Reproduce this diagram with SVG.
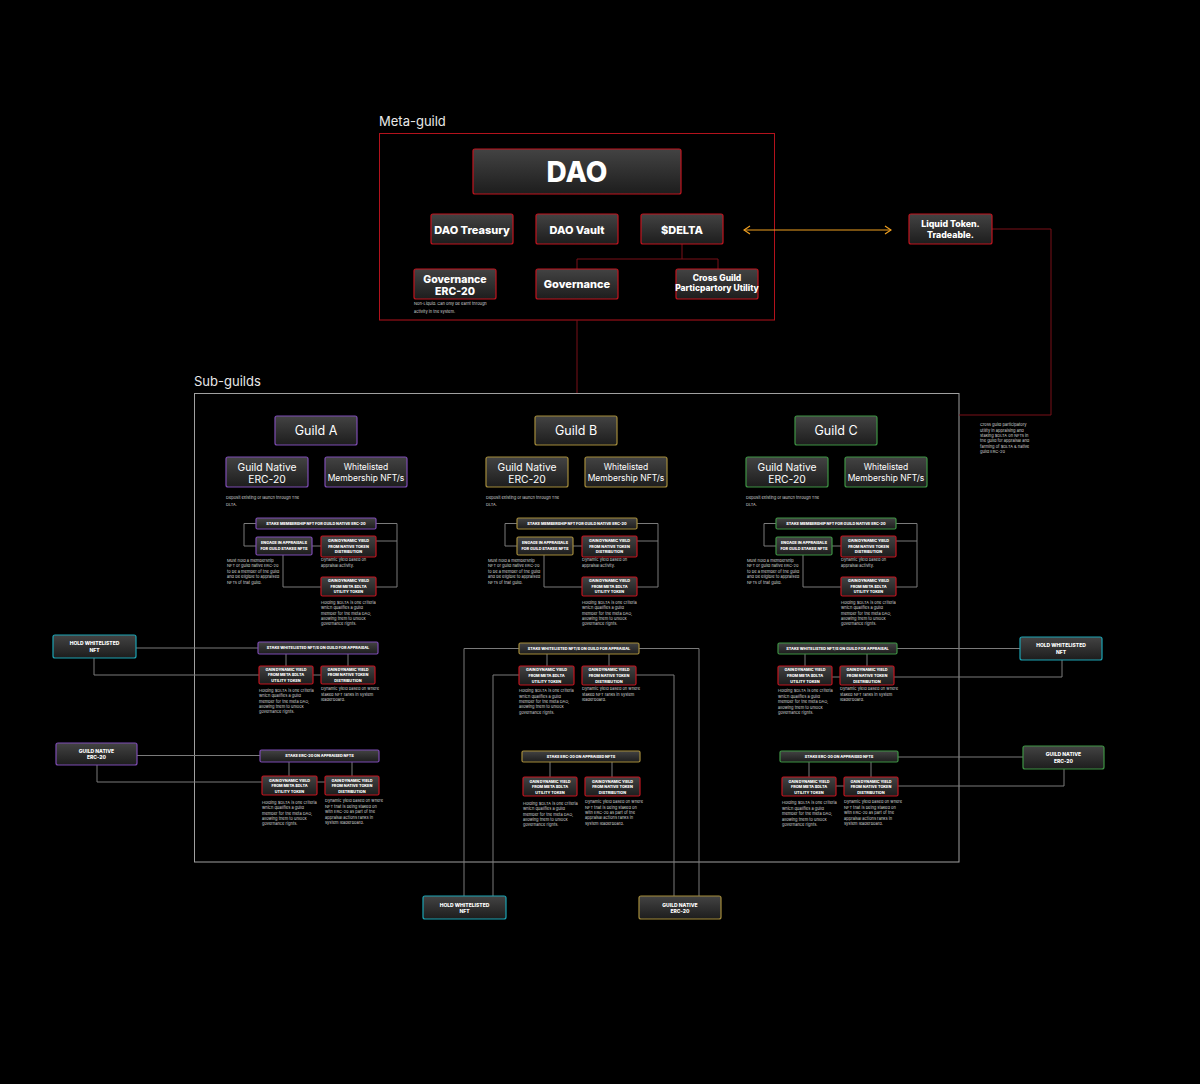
<svg xmlns="http://www.w3.org/2000/svg" width="1200" height="1084" viewBox="0 0 1200 1084">
<defs>
<linearGradient id="gr" x1="0" y1="0" x2="0" y2="1"><stop offset="0" stop-color="#434343"/><stop offset="1" stop-color="#1d1d1d"/></linearGradient>
<marker id="ar" viewBox="0 0 8 10" refX="7" refY="5" markerWidth="8" markerHeight="10" markerUnits="userSpaceOnUse" orient="auto-start-reverse"><path d="M1,1 L7,5 L1,9" fill="none" stroke="#f0a020" stroke-width="1.2"/></marker>
</defs>
<style>
.b{fill:url(#gr);stroke-width:1.2}
.r{stroke:#c0141f}.p{stroke:#7d4cb3}.y{stroke:#a38b3b}.g{stroke:#3e9444}.c{stroke:#1ca3b3}
text{font-family:Inter,"Noto Sans","Liberation Sans",sans-serif}
.h{font-weight:800;fill:#fff;text-anchor:middle}
.n{font-weight:400;fill:#fff;text-anchor:middle}
.s{font-weight:800;fill:#fff;text-anchor:middle;font-size:3.8px}
.m{font-weight:800;fill:#fff;text-anchor:middle;font-size:5px}
.d{font-size:4px;fill:#d4d4d4}
.lbl{font-size:13px;fill:#e8e8e8}
.ln{fill:none;stroke:#7a7a7a;stroke-width:1}
.mr{fill:none;stroke:#7a1018;stroke-width:1}
</style>
<rect width="1200" height="1084" fill="#000"/>

<text class="lbl" x="379" y="126" font-size="13.5">Meta-guild</text>
<text class="lbl" x="194" y="386" font-size="12.5">Sub-guilds</text>
<rect x="379.5" y="133.5" width="395" height="186.5" fill="none" stroke="#b3121c" stroke-width="1"/>
<rect x="194.5" y="393.5" width="764.5" height="468.5" fill="none" stroke="#a0a0a0" stroke-width="1"/>

<g id="connectors">
<path class="mr" d="M682,244 V259 M577,259 H718 M577,259 V269 M718,259 V269"/>
<path class="mr" d="M577,320 V393"/>
<path class="mr" d="M992,229 H1051 V415 H959"/>
<path d="M744,230 H891" fill="none" stroke="#f0a020" stroke-width="1.2" marker-start="url(#ar)" marker-end="url(#ar)"/>
<!-- Guild A -->
<path class="ln" d="M256,523.5 H244 V546 H256 M376,523.5 H397 V587 H376 M376,541 H397 M312,546 H321 M283,555 V587 H321"/>
<path class="ln" d="M136,648 H258 M286,654 V666 M348,654 V666 M94,658 V675 H259 M313,675 H321"/>
<path class="ln" d="M137,755.5 H260 M289,762 V776 M352,762 V776 M97,765 V782 H262 M317,782 H325"/>
<!-- Guild B -->
<path class="ln" d="M517,523.5 H505 V546 H517 M637,523.5 H658 V587 H637 M637,541 H658 M573,546 H582 M544,555 V587 H582"/>
<path class="ln" d="M547,654 V666 M609,654 V666 M519,648.5 H464 V896 M519,675 H493 V896 M639,648.5 H699 V896 M636,675 H674 V896"/>
<path class="ln" d="M550,762 V777 M612,762 V777"/>
<!-- Guild C -->
<path class="ln" d="M776,523.5 H764 V546 H776 M896,523.5 H917 V587 H896 M896,541 H917 M832,546 H841 M803,555 V587 H841"/>
<path class="ln" d="M897,648.5 H1020 M805,654 V666 M867,654 V666 M1062,660 V677 H894 M832,677 H840"/>
<path class="ln" d="M898,757 H1023 M809,762 V777 M871,762 V777 M1064,769 V786 H898 M836,786 H844"/>
</g>

<!-- Meta-guild nodes -->
<g id="dao"><rect class="b r" x="473" y="149" width="208" height="45" rx="2"/><text class="h" x="577" y="182" font-size="28">DAO</text></g>
<g id="dao-treasury"><rect class="b r" x="431" y="214" width="82" height="30" rx="2"/><text class="h" x="472" y="233.5" font-size="11">DAO Treasury</text></g>
<g id="dao-vault"><rect class="b r" x="536" y="214" width="82" height="30" rx="2"/><text class="h" x="577" y="233.5" font-size="11">DAO Vault</text></g>
<g id="delta"><rect class="b r" x="641" y="214" width="82" height="30" rx="2"/><text class="h" x="682" y="233.5" font-size="11">$DELTA</text></g>
<g id="gov-erc20"><rect class="b r" x="414" y="269" width="82" height="30" rx="2"/><text class="h" font-size="10.5"><tspan x="455" y="282.6">Governance</tspan><tspan x="455" y="295">ERC-20</tspan></text>
<text class="d" font-size="4.4"><tspan x="414" y="305.2">Non-Liquid. Can only be earnt through</tspan><tspan x="414" y="312.5">activity in the system.</tspan></text></g>
<g id="governance"><rect class="b r" x="536" y="269" width="82" height="30" rx="2"/><text class="h" x="577" y="288" font-size="11">Governance</text></g>
<g id="cross-guild"><rect class="b r" x="676" y="269" width="82" height="30" rx="2"/><text class="h" font-size="8.5"><tspan x="717" y="280.6">Cross Guild</tspan><tspan x="717" y="291.3">Particpartory Utility</tspan></text></g>
<g id="liquid"><rect class="b r" x="909" y="214" width="83" height="30" rx="2"/><text class="h" font-size="8.8"><tspan x="950.5" y="226.7">Liquid Token.</tspan><tspan x="950.5" y="237.6">Tradeable.</tspan></text></g>
<text class="d"><tspan x="980" y="426.4">Cross guild participatory</tspan><tspan x="980" y="431.7">utility in appraising and</tspan><tspan x="980" y="437.1">staking $DLTA on NFTs in</tspan><tspan x="980" y="442.4">the guild for appraisal and</tspan><tspan x="980" y="447.7">farming of $DLTA &amp; native</tspan><tspan x="980" y="453.1">guild ERC-20</tspan></text>

<!-- Guild A -->
<g id="guild-a"><rect class="b p" x="275" y="416" width="82" height="29" rx="2"/><text class="n" x="316" y="435" font-size="12.5">Guild A</text></g>
<g id="a-erc20"><rect class="b p" x="226" y="457" width="82" height="30" rx="2"/><text class="n" font-size="10.3"><tspan x="267" y="470.6">Guild Native</tspan><tspan x="267" y="483">ERC-20</tspan></text>
<text class="d" font-size="4.5"><tspan x="226" y="499">Deposit existing or launch through The</tspan><tspan x="226" y="505.7">DLTA.</tspan></text></g>
<g id="a-wl"><rect class="b p" x="325" y="457" width="82" height="30" rx="2"/><text class="n" font-size="8.5"><tspan x="366" y="470">Whitelisted</tspan><tspan x="366" y="481">Membership NFT/s</tspan></text></g>
<g id="a-stake-mem"><rect class="b p" x="256" y="518" width="120" height="11" rx="1.5"/><text class="s" x="316" y="524.9">STAKE MEMBERSHIP NFT FOR GUILD NATIVE ERC-20</text></g>
<g id="a-engage"><rect class="b p" x="256" y="537" width="56" height="18" rx="1.5"/><text class="s"><tspan x="284" y="544.4">ENGAGE IN APPRAISALS</tspan><tspan x="284" y="550.4">FOR GUILD STAKES NFTS</tspan></text>
<text class="d"><tspan x="227" y="562">Must hold a membership</tspan><tspan x="227" y="567.4">NFT or guild native ERC-20</tspan><tspan x="227" y="572.8">to be a member of the guild</tspan><tspan x="227" y="578.2">and be eligible to appraised</tspan><tspan x="227" y="583.6">NFTs of that guild.</tspan></text></g>
<g id="a-native1"><rect class="b r" x="321" y="536" width="55" height="21" rx="1.5"/><text class="s"><tspan x="348.5" y="542.4">GAIN DYNAMIC YIELD</tspan><tspan x="348.5" y="547.9">FROM NATIVE TOKEN</tspan><tspan x="348.5" y="553.4">DISTRIBUTION</tspan></text>
<text class="d"><tspan x="321" y="561.4">Dynamic yield based on</tspan><tspan x="321" y="566.8">appraisal activity.</tspan></text></g>
<g id="a-meta1"><rect class="b r" x="321" y="577" width="55" height="19" rx="1.5"/><text class="s"><tspan x="348.5" y="582.4">GAIN DYNAMIC YIELD</tspan><tspan x="348.5" y="587.9">FROM META $DLTA</tspan><tspan x="348.5" y="593.4">UTILITY TOKEN</tspan></text>
<text class="d"><tspan x="321" y="603.7">Holding $DLTA is one criteria</tspan><tspan x="321" y="609.1">which qualifies a guild</tspan><tspan x="321" y="614.5">member for the meta DAO,</tspan><tspan x="321" y="619.9">allowing them to unlock</tspan><tspan x="321" y="625.3">governance rights.</tspan></text></g>
<g id="a-hold"><rect class="b c" x="53" y="635" width="83" height="23" rx="2"/><text class="m"><tspan x="94.5" y="645.1">HOLD WHITELISTED</tspan><tspan x="94.5" y="651.8">NFT</tspan></text></g>
<g id="a-stake-wl"><rect class="b p" x="258" y="642" width="120" height="12" rx="1.5"/><text class="s" x="318" y="649.4">STAKE WHITELISTED NFT/S ON GUILD FOR APPRAISAL</text></g>
<g id="a-meta2"><rect class="b r" x="259" y="666" width="54" height="18" rx="1.5"/><text class="s"><tspan x="286" y="670.7">GAIN DYNAMIC YIELD</tspan><tspan x="286" y="676.4">FROM META $DLTA</tspan><tspan x="286" y="682.1">UTILITY TOKEN</tspan></text>
<text class="d"><tspan x="259" y="691.7">Holding $DLTA is one criteria</tspan><tspan x="259" y="697.1">which qualifies a guild</tspan><tspan x="259" y="702.5">member for the meta DAO,</tspan><tspan x="259" y="707.9">allowing them to unlock</tspan><tspan x="259" y="713.3">governance rights.</tspan></text></g>
<g id="a-native2"><rect class="b r" x="321" y="666" width="54" height="18" rx="1.5"/><text class="s"><tspan x="348" y="670.7">GAIN DYNAMIC YIELD</tspan><tspan x="348" y="676.4">FROM NATIVE TOKEN</tspan><tspan x="348" y="682.1">DISTRIBUTION</tspan></text>
<text class="d"><tspan x="321" y="690.1">Dynamic yield based on where</tspan><tspan x="321" y="695.5">staked NFT ranks in system</tspan><tspan x="321" y="700.9">leaderboard.</tspan></text></g>
<g id="a-gne"><rect class="b p" x="56" y="743" width="81" height="22" rx="2"/><text class="m"><tspan x="96.5" y="752.5">GUILD NATIVE</tspan><tspan x="96.5" y="759.1">ERC-20</tspan></text></g>
<g id="a-stake-erc"><rect class="b p" x="260" y="750" width="119" height="12" rx="1.5"/><text class="s" x="319.5" y="757.4">STAKE ERC-20 ON APPRAISED NFTS</text></g>
<g id="a-meta3"><rect class="b r" x="262" y="776" width="55" height="19" rx="1.5"/><text class="s"><tspan x="289.5" y="781.7">GAIN DYNAMIC YIELD</tspan><tspan x="289.5" y="787.2">FROM META $DLTA</tspan><tspan x="289.5" y="792.7">UTILITY TOKEN</tspan></text>
<text class="d"><tspan x="262" y="803.7">Holding $DLTA is one criteria</tspan><tspan x="262" y="809.1">which qualifies a guild</tspan><tspan x="262" y="814.5">member for the meta DAO,</tspan><tspan x="262" y="819.9">allowing them to unlock</tspan><tspan x="262" y="825.3">governance rights.</tspan></text></g>
<g id="a-native3"><rect class="b r" x="325" y="776" width="54" height="19" rx="1.5"/><text class="s"><tspan x="352" y="781.7">GAIN DYNAMIC YIELD</tspan><tspan x="352" y="787.2">FROM NATIVE TOKEN</tspan><tspan x="352" y="792.7">DISTRIBUTION</tspan></text>
<text class="d"><tspan x="325" y="802.4">Dynamic yield based on where</tspan><tspan x="325" y="807.8">NFT that is being staked on</tspan><tspan x="325" y="813.2">with ERC-20 as part of the</tspan><tspan x="325" y="818.6">appraisal actions ranks in</tspan><tspan x="325" y="824">system leaderboard.</tspan></text></g>

<!-- Guild B -->
<g id="guild-b"><rect class="b y" x="535" y="416" width="82" height="29" rx="2"/><text class="n" x="576" y="435" font-size="12.5">Guild B</text></g>
<g id="b-erc20"><rect class="b y" x="486" y="457" width="82" height="30" rx="2"/><text class="n" font-size="10.3"><tspan x="527" y="470.6">Guild Native</tspan><tspan x="527" y="483">ERC-20</tspan></text>
<text class="d" font-size="4.5"><tspan x="486" y="499">Deposit existing or launch through The</tspan><tspan x="486" y="505.7">DLTA.</tspan></text></g>
<g id="b-wl"><rect class="b y" x="585" y="457" width="82" height="30" rx="2"/><text class="n" font-size="8.5"><tspan x="626" y="470">Whitelisted</tspan><tspan x="626" y="481">Membership NFT/s</tspan></text></g>
<g id="b-stake-mem"><rect class="b y" x="517" y="518" width="120" height="11" rx="1.5"/><text class="s" x="577" y="524.9">STAKE MEMBERSHIP NFT FOR GUILD NATIVE ERC-20</text></g>
<g id="b-engage"><rect class="b y" x="517" y="537" width="56" height="18" rx="1.5"/><text class="s"><tspan x="545" y="544.4">ENGAGE IN APPRAISALS</tspan><tspan x="545" y="550.4">FOR GUILD STAKES NFTS</tspan></text>
<text class="d"><tspan x="488" y="562">Must hold a membership</tspan><tspan x="488" y="567.4">NFT or guild native ERC-20</tspan><tspan x="488" y="572.8">to be a member of the guild</tspan><tspan x="488" y="578.2">and be eligible to appraised</tspan><tspan x="488" y="583.6">NFTs of that guild.</tspan></text></g>
<g id="b-native1"><rect class="b r" x="582" y="536" width="55" height="21" rx="1.5"/><text class="s"><tspan x="609.5" y="542.4">GAIN DYNAMIC YIELD</tspan><tspan x="609.5" y="547.9">FROM NATIVE TOKEN</tspan><tspan x="609.5" y="553.4">DISTRIBUTION</tspan></text>
<text class="d"><tspan x="582" y="561.4">Dynamic yield based on</tspan><tspan x="582" y="566.8">appraisal activity.</tspan></text></g>
<g id="b-meta1"><rect class="b r" x="582" y="577" width="55" height="19" rx="1.5"/><text class="s"><tspan x="609.5" y="582.4">GAIN DYNAMIC YIELD</tspan><tspan x="609.5" y="587.9">FROM META $DLTA</tspan><tspan x="609.5" y="593.4">UTILITY TOKEN</tspan></text>
<text class="d"><tspan x="582" y="603.7">Holding $DLTA is one criteria</tspan><tspan x="582" y="609.1">which qualifies a guild</tspan><tspan x="582" y="614.5">member for the meta DAO,</tspan><tspan x="582" y="619.9">allowing them to unlock</tspan><tspan x="582" y="625.3">governance rights.</tspan></text></g>
<g id="b-stake-wl"><rect class="b y" x="519" y="643" width="120" height="11" rx="1.5"/><text class="s" x="579" y="649.9">STAKE WHITELISTED NFT/S ON GUILD FOR APPRAISAL</text></g>
<g id="b-meta2"><rect class="b r" x="519" y="666" width="55" height="19" rx="1.5"/><text class="s"><tspan x="546.5" y="671.2">GAIN DYNAMIC YIELD</tspan><tspan x="546.5" y="676.9">FROM META $DLTA</tspan><tspan x="546.5" y="682.6">UTILITY TOKEN</tspan></text>
<text class="d"><tspan x="519" y="692.1">Holding $DLTA is one criteria</tspan><tspan x="519" y="697.5">which qualifies a guild</tspan><tspan x="519" y="702.9">member for the meta DAO,</tspan><tspan x="519" y="708.3">allowing them to unlock</tspan><tspan x="519" y="713.7">governance rights.</tspan></text></g>
<g id="b-native2"><rect class="b r" x="582" y="666" width="54" height="19" rx="1.5"/><text class="s"><tspan x="609" y="671.2">GAIN DYNAMIC YIELD</tspan><tspan x="609" y="676.9">FROM NATIVE TOKEN</tspan><tspan x="609" y="682.6">DISTRIBUTION</tspan></text>
<text class="d"><tspan x="582" y="690.4">Dynamic yield based on where</tspan><tspan x="582" y="695.8">staked NFT ranks in system</tspan><tspan x="582" y="701.2">leaderboard.</tspan></text></g>
<g id="b-stake-erc"><rect class="b y" x="522" y="751" width="118" height="11" rx="1.5"/><text class="s" x="581" y="757.9">STAKE ERC-20 ON APPRAISED NFTS</text></g>
<g id="b-meta3"><rect class="b r" x="523" y="777" width="54" height="19" rx="1.5"/><text class="s"><tspan x="550" y="782.7">GAIN DYNAMIC YIELD</tspan><tspan x="550" y="788.2">FROM META $DLTA</tspan><tspan x="550" y="793.7">UTILITY TOKEN</tspan></text>
<text class="d"><tspan x="523" y="804.7">Holding $DLTA is one criteria</tspan><tspan x="523" y="810.1">which qualifies a guild</tspan><tspan x="523" y="815.5">member for the meta DAO,</tspan><tspan x="523" y="820.9">allowing them to unlock</tspan><tspan x="523" y="826.3">governance rights.</tspan></text></g>
<g id="b-native3"><rect class="b r" x="585" y="777" width="55" height="19" rx="1.5"/><text class="s"><tspan x="612.5" y="782.7">GAIN DYNAMIC YIELD</tspan><tspan x="612.5" y="788.2">FROM NATIVE TOKEN</tspan><tspan x="612.5" y="793.7">DISTRIBUTION</tspan></text>
<text class="d"><tspan x="585" y="803.1">Dynamic yield based on where</tspan><tspan x="585" y="808.5">NFT that is being staked on</tspan><tspan x="585" y="813.9">with ERC-20 as part of the</tspan><tspan x="585" y="819.3">appraisal actions ranks in</tspan><tspan x="585" y="824.7">system leaderboard.</tspan></text></g>
<g id="b-hold"><rect class="b c" x="423" y="896" width="83" height="23" rx="2"/><text class="m"><tspan x="464.5" y="906.5">HOLD WHITELISTED</tspan><tspan x="464.5" y="913.1">NFT</tspan></text></g>
<g id="b-gne"><rect class="b y" x="639" y="896" width="82" height="23" rx="2"/><text class="m"><tspan x="680" y="906.5">GUILD NATIVE</tspan><tspan x="680" y="913.1">ERC-20</tspan></text></g>

<!-- Guild C -->
<g id="guild-c"><rect class="b g" x="795" y="416" width="82" height="29" rx="2"/><text class="n" x="836" y="435" font-size="12.5">Guild C</text></g>
<g id="c-erc20"><rect class="b g" x="746" y="457" width="82" height="30" rx="2"/><text class="n" font-size="10.3"><tspan x="787" y="470.6">Guild Native</tspan><tspan x="787" y="483">ERC-20</tspan></text>
<text class="d" font-size="4.5"><tspan x="746" y="499">Deposit existing or launch through The</tspan><tspan x="746" y="505.7">DLTA.</tspan></text></g>
<g id="c-wl"><rect class="b g" x="845" y="457" width="82" height="30" rx="2"/><text class="n" font-size="8.5"><tspan x="886" y="470">Whitelisted</tspan><tspan x="886" y="481">Membership NFT/s</tspan></text></g>
<g id="c-stake-mem"><rect class="b g" x="776" y="518" width="120" height="11" rx="1.5"/><text class="s" x="836" y="524.9">STAKE MEMBERSHIP NFT FOR GUILD NATIVE ERC-20</text></g>
<g id="c-engage"><rect class="b g" x="776" y="537" width="56" height="18" rx="1.5"/><text class="s"><tspan x="804" y="544.4">ENGAGE IN APPRAISALS</tspan><tspan x="804" y="550.4">FOR GUILD STAKES NFTS</tspan></text>
<text class="d"><tspan x="747" y="562">Must hold a membership</tspan><tspan x="747" y="567.4">NFT or guild native ERC-20</tspan><tspan x="747" y="572.8">to be a member of the guild</tspan><tspan x="747" y="578.2">and be eligible to appraised</tspan><tspan x="747" y="583.6">NFTs of that guild.</tspan></text></g>
<g id="c-native1"><rect class="b r" x="841" y="536" width="55" height="21" rx="1.5"/><text class="s"><tspan x="868.5" y="542.4">GAIN DYNAMIC YIELD</tspan><tspan x="868.5" y="547.9">FROM NATIVE TOKEN</tspan><tspan x="868.5" y="553.4">DISTRIBUTION</tspan></text>
<text class="d"><tspan x="841" y="561.4">Dynamic yield based on</tspan><tspan x="841" y="566.8">appraisal activity.</tspan></text></g>
<g id="c-meta1"><rect class="b r" x="841" y="577" width="55" height="19" rx="1.5"/><text class="s"><tspan x="868.5" y="582.4">GAIN DYNAMIC YIELD</tspan><tspan x="868.5" y="587.9">FROM META $DLTA</tspan><tspan x="868.5" y="593.4">UTILITY TOKEN</tspan></text>
<text class="d"><tspan x="841" y="603.7">Holding $DLTA is one criteria</tspan><tspan x="841" y="609.1">which qualifies a guild</tspan><tspan x="841" y="614.5">member for the meta DAO,</tspan><tspan x="841" y="619.9">allowing them to unlock</tspan><tspan x="841" y="625.3">governance rights.</tspan></text></g>
<g id="c-stake-wl"><rect class="b g" x="778" y="643" width="119" height="11" rx="1.5"/><text class="s" x="837.5" y="649.9">STAKE WHITELISTED NFT/S ON GUILD FOR APPRAISAL</text></g>
<g id="c-meta2"><rect class="b r" x="778" y="666" width="54" height="19" rx="1.5"/><text class="s"><tspan x="805" y="671.2">GAIN DYNAMIC YIELD</tspan><tspan x="805" y="676.9">FROM META $DLTA</tspan><tspan x="805" y="682.6">UTILITY TOKEN</tspan></text>
<text class="d"><tspan x="778" y="692.4">Holding $DLTA is one criteria</tspan><tspan x="778" y="697.8">which qualifies a guild</tspan><tspan x="778" y="703.2">member for the meta DAO,</tspan><tspan x="778" y="708.6">allowing them to unlock</tspan><tspan x="778" y="714">governance rights.</tspan></text></g>
<g id="c-native2"><rect class="b r" x="840" y="666" width="54" height="19" rx="1.5"/><text class="s"><tspan x="867" y="671.2">GAIN DYNAMIC YIELD</tspan><tspan x="867" y="676.9">FROM NATIVE TOKEN</tspan><tspan x="867" y="682.6">DISTRIBUTION</tspan></text>
<text class="d"><tspan x="840" y="690.4">Dynamic yield based on where</tspan><tspan x="840" y="695.8">staked NFT ranks in system</tspan><tspan x="840" y="701.2">leaderboard.</tspan></text></g>
<g id="c-hold"><rect class="b c" x="1020" y="637" width="82" height="23" rx="2"/><text class="m"><tspan x="1061" y="647.1">HOLD WHITELISTED</tspan><tspan x="1061" y="653.8">NFT</tspan></text></g>
<g id="c-stake-erc"><rect class="b g" x="780" y="751" width="118" height="11" rx="1.5"/><text class="s" x="839" y="757.9">STAKE ERC-20 ON APPRAISED NFTS</text></g>
<g id="c-meta3"><rect class="b r" x="782" y="777" width="54" height="19" rx="1.5"/><text class="s"><tspan x="809" y="782.7">GAIN DYNAMIC YIELD</tspan><tspan x="809" y="788.2">FROM META $DLTA</tspan><tspan x="809" y="793.7">UTILITY TOKEN</tspan></text>
<text class="d"><tspan x="782" y="804.4">Holding $DLTA is one criteria</tspan><tspan x="782" y="809.8">which qualifies a guild</tspan><tspan x="782" y="815.2">member for the meta DAO,</tspan><tspan x="782" y="820.6">allowing them to unlock</tspan><tspan x="782" y="826">governance rights.</tspan></text></g>
<g id="c-native3"><rect class="b r" x="844" y="777" width="54" height="19" rx="1.5"/><text class="s"><tspan x="871" y="782.7">GAIN DYNAMIC YIELD</tspan><tspan x="871" y="788.2">FROM NATIVE TOKEN</tspan><tspan x="871" y="793.7">DISTRIBUTION</tspan></text>
<text class="d"><tspan x="844" y="803.4">Dynamic yield based on where</tspan><tspan x="844" y="808.8">NFT that is being staked on</tspan><tspan x="844" y="814.2">with ERC-20 as part of the</tspan><tspan x="844" y="819.6">appraisal actions ranks in</tspan><tspan x="844" y="825">system leaderboard.</tspan></text></g>
<g id="c-gne"><rect class="b g" x="1023" y="746" width="81" height="23" rx="2"/><text class="m"><tspan x="1063.5" y="756.1">GUILD NATIVE</tspan><tspan x="1063.5" y="762.8">ERC-20</tspan></text></g>
</svg>
